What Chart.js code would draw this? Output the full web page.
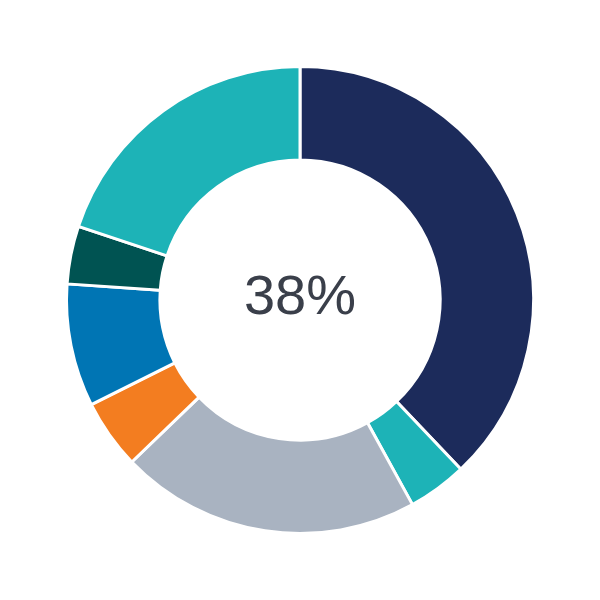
<!DOCTYPE html>
<html>
<head>
<meta charset="utf-8">
<script src="https://cdn.jsdelivr.net/npm/chart.js@4"></script>
<style>
  html, body { margin: 0; padding: 0; background: #ffffff; }
  #wrap { width: 600px; height: 600px; }
</style>
</head>
<body>
<div id="wrap"><canvas id="chart_root"></canvas></div>
<script>
// Doughnut data
const categories = ['A', 'B', 'C', 'D', 'E', 'F', 'G'];
const values = [37.9, 4.1, 20.8, 4.8, 8.5, 4.0, 19.9];
const colors = ['#1c2b5b', '#1db3b7', '#a9b3c1', '#f37d20', '#0075b4', '#005352', '#1db3b7'];
const centerLabel = '38%';

// Center text plugin
const centerText = {
  id: 'centerText',
  afterDraw(chart) {
    const meta = chart.getDatasetMeta(0);
    if (!meta.data.length) return;
    const { x, y } = meta.data[0];
    const ctx = chart.ctx;
    ctx.save();
    ctx.font = '56px "Liberation Sans", Arial, sans-serif';
    ctx.fillStyle = '#3a3f4a';
    ctx.textAlign = 'center';
    ctx.textBaseline = 'middle';
    ctx.fillText(centerLabel, x, y - 1);
    ctx.restore();
  }
};

const ctx = document.getElementById('chart_root');

new Chart(ctx, {
  type: 'doughnut',
  data: {
    labels: categories,
    datasets: [
      {
        data: values,
        backgroundColor: colors,
        borderColor: '#ffffff',
        borderWidth: 3
      }
    ]
  },
  options: {
    responsive: true,
    maintainAspectRatio: false,
    animation: false,
    cutout: '60%',
    layout: { padding: 65 },
    plugins: {
      legend: { display: false },
      tooltip: { enabled: false }
    }
  },
  plugins: [centerText]
});
</script>
</body>
</html>
